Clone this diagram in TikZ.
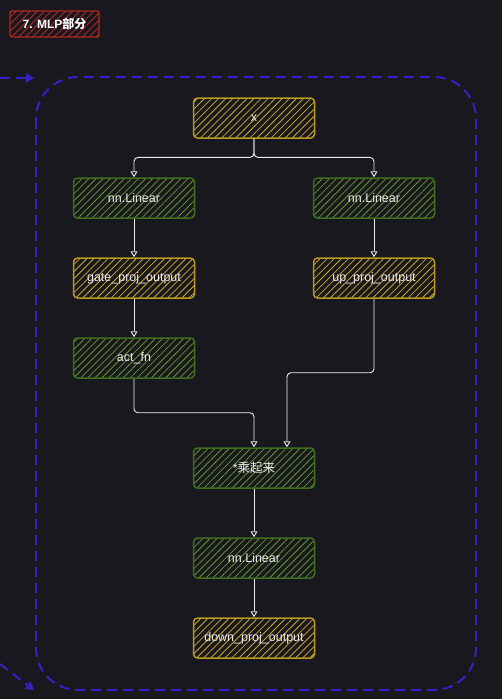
\documentclass[tikz,border=0pt]{standalone}
\usepackage{fontspec}
\setmainfont{Liberation Sans}
\newfontfamily\cjk{Noto Sans CJK SC}
\usetikzlibrary{arrows.meta,patterns.meta}
\tikzset{>={Triangle[open,width=7pt,length=6pt]}}
\definecolor{bg}{HTML}{1A181F}
\definecolor{grn}{HTML}{3F6E1E}
\definecolor{grnh}{HTML}{5E9A2A}
\definecolor{ylw}{HTML}{B89A20}
\definecolor{ylwh}{HTML}{C9A82A}
\definecolor{redd}{HTML}{B0281E}
\definecolor{blu}{HTML}{3622C4}
\definecolor{wht}{HTML}{EDEDED}

\begin{document}
\begin{tikzpicture}[x=1pt,y=-1pt,font=\fontsize{12.5}{14}\selectfont]
\tikzstyle{gbox}=[rounded corners=4pt,draw=grn,line width=1.5pt,pattern={Lines[angle=45,distance=5pt,line width=0.8pt]},pattern color=grnh,minimum width=121pt,minimum height=40pt,text=wht]
\tikzstyle{ybox}=[rounded corners=4pt,draw=ylw,line width=1.5pt,pattern={Lines[angle=45,distance=5pt,line width=0.8pt]},pattern color=ylwh,minimum width=121pt,minimum height=40pt,text=wht]
\tikzstyle{flow}=[->,draw=wht,line width=0.9pt,rounded corners=4pt]

    % background
    \fill[bg] (0,0) rectangle (502,699);
    \useasboundingbox (0,0) rectangle (502,699);

    % title
    \node[rounded corners=2pt,draw=redd,line width=1.4pt,pattern={Lines[angle=45,distance=5pt,line width=0.9pt]},pattern color=redd,minimum width=89pt,minimum height=26pt,text=white,font=\fontsize{12}{14}\selectfont\bfseries] (title) at (54.5,24) {7. MLP{\cjk 部分}};

    % frame
    \draw[blu,line width=2pt,dash pattern=on 10pt off 6pt,rounded corners=42pt] (36,77) rectangle (476,690);
    \coordinate (top0) at (0,78);
    \coordinate (top1) at (34,78);
    \coordinate (bot0) at (0,664);
    \coordinate (bot1) at (34,690);
    \draw[blu,line width=2pt,dash pattern=on 10pt off 6pt,-{Triangle[width=9pt,length=8pt]}] (top0) -- (top1);
    \draw[blu,line width=2pt,dash pattern=on 10pt off 6pt,-{Triangle[width=9pt,length=8pt]}] (bot0) -- (bot1);

    % nodes
    \node[ybox] (xin) at (254,118) {x};
    \node[gbox] (lin1) at (134,198) {nn.Linear};
    \node[gbox] (lin2) at (374,198) {nn.Linear};
    \node[ybox] (gate) at (134,278) {gate\_proj\_output};
    \node[ybox] (up) at (374,278) {up\_proj\_output};
    \node[gbox] (act) at (134,358) {act\_fn};
    \node[gbox] (mul) at (254,468) {*{\cjk 乘起来}};
    \node[gbox] (lin3) at (254,558) {nn.Linear};
    \node[ybox] (down) at (254,638) {down\_proj\_output};

    % edges
    \draw[flow] (xin.south) -- ++(0,19) -| (lin1.north);
    \draw[flow] (xin.south) -- ++(0,19) -| (lin2.north);
    \draw[flow] (lin1) -- (gate);
    \draw[flow] (lin2) -- (up);
    \draw[flow] (gate) -- (act);
    \draw[flow] (act.south) -- ++(0,34) -| (mul.north);
    \draw[flow] (up.south) -- ++(0,74) -| ([xshift=33pt]mul.north);
    \draw[flow] (mul) -- (lin3);
    \draw[flow] (lin3) -- (down);

\end{tikzpicture}
\end{document}
